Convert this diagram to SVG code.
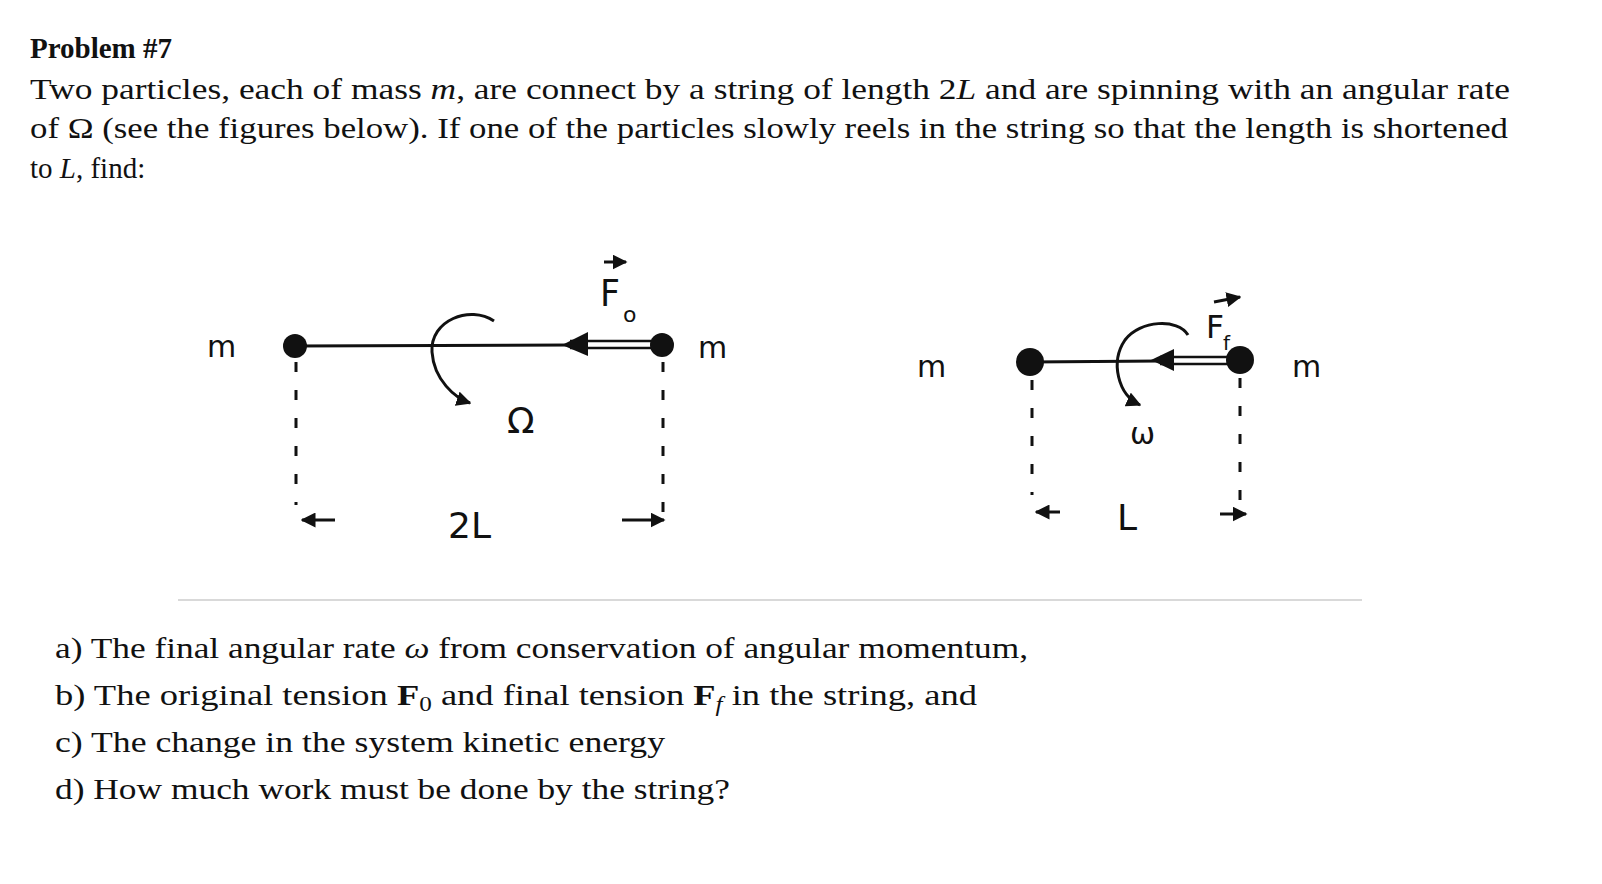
<svg xmlns="http://www.w3.org/2000/svg" width="1602" height="884" viewBox="0 0 1602 884">
<style>
.t{font-family:"Liberation Serif",serif;font-size:29px;fill:#111}
.h{font-family:"DejaVu Sans","Liberation Sans",sans-serif;fill:#111}
.ln{stroke:#111;stroke-width:3;fill:none}
.d{stroke:#111;stroke-width:3;fill:none;stroke-dasharray:10 18}
</style>
<defs>
<marker id="ah" viewBox="0 0 10 10" refX="9" refY="5" markerWidth="5" markerHeight="5" orient="auto"><path d="M0,0L10,5L0,10z" fill="#111"/></marker>
</defs>
<rect width="1602" height="884" fill="#fff"/>
<g id="text">
<text class="t" x="30" y="58" font-weight="bold">Problem #7</text>
<text class="t" x="30" y="99" textLength="1480" lengthAdjust="spacingAndGlyphs">Two particles, each of mass <tspan font-style="italic">m</tspan>, are connect by a string of length 2<tspan font-style="italic">L</tspan> and are spinning with an angular rate</text>
<text class="t" x="30" y="138" textLength="1478" lengthAdjust="spacingAndGlyphs">of Ω (see the figures below). If one of the particles slowly reels in the string so that the length is shortened</text>
<text class="t" x="30" y="178">to <tspan font-style="italic">L</tspan>, find:</text>
<text class="t" x="55" y="658" textLength="973" lengthAdjust="spacingAndGlyphs">a)  The final angular rate <tspan font-style="italic">ω</tspan> from conservation of angular momentum,</text>
<text class="t" x="55" y="705" textLength="922" lengthAdjust="spacingAndGlyphs">b)  The original tension <tspan font-weight="bold">F</tspan><tspan font-size="20" dy="6">0</tspan><tspan dy="-6"> and final tension </tspan><tspan font-weight="bold">F</tspan><tspan font-size="20" font-style="italic" dy="6">f</tspan><tspan dy="-6"> in the string, and</tspan></text>
<text class="t" x="55" y="752" textLength="610" lengthAdjust="spacingAndGlyphs">c)  The change in the system kinetic energy</text>
<text class="t" x="55" y="799" textLength="675" lengthAdjust="spacingAndGlyphs">d)  How much work must be done by the string?</text>
</g>
<line x1="178" y1="600" x2="1362" y2="600" stroke="#ccc" stroke-width="1.5"/>
<g id="fig1">
<line class="ln" x1="295" y1="346" x2="570" y2="345"/>
<line x1="570" y1="341" x2="662" y2="341" stroke="#111" stroke-width="2.5"/>
<line x1="570" y1="348" x2="662" y2="348" stroke="#111" stroke-width="2.5"/>
<path d="M562,345 L588,332 L588,356 z" fill="#111"/>
<circle cx="295" cy="346" r="12" fill="#111"/>
<circle cx="662" cy="345" r="12" fill="#111"/>
<path class="ln" d="M494,321 C470,305 430,320 432,352 C434,380 455,398 470,403" marker-end="url(#ah)"/>
<text class="h" x="507" y="433" font-size="36">Ω</text>
<text class="h" x="207" y="357" font-size="30">m</text>
<text class="h" x="698" y="358" font-size="30">m</text>
<line class="ln" x1="604" y1="262" x2="626" y2="262" marker-end="url(#ah)"/>
<text class="h" x="600" y="306" font-size="38" textLength="20" lengthAdjust="spacingAndGlyphs">F</text>
<text class="h" x="623" y="322" font-size="22">o</text>
<line class="d" x1="296" y1="362" x2="296" y2="505"/>
<line class="d" x1="663" y1="362" x2="663" y2="512"/>
<line class="ln" x1="335" y1="520" x2="302" y2="520" marker-end="url(#ah)"/>
<line class="ln" x1="622" y1="520" x2="664" y2="520" marker-end="url(#ah)"/>
<text class="h" x="448" y="538" font-size="36">2L</text>
</g>
<g id="fig2">
<line class="ln" x1="1030" y1="362" x2="1160" y2="361"/>
<line x1="1160" y1="357" x2="1238" y2="357" stroke="#111" stroke-width="2.5"/>
<line x1="1160" y1="364" x2="1238" y2="364" stroke="#111" stroke-width="2.5"/>
<path d="M1151,360 L1174,349 L1174,371 z" fill="#111"/>
<circle cx="1030" cy="362" r="14" fill="#111"/>
<circle cx="1240" cy="360" r="14" fill="#111"/>
<path class="ln" d="M1188,335 C1178,318 1140,320 1125,340 C1110,362 1118,395 1140,405" marker-end="url(#ah)"/>
<text class="h" x="1130" y="444" font-size="30">ω</text>
<text class="h" x="1292" y="377" font-size="30">m</text>
<text class="h" x="917" y="377" font-size="30">m</text>
<line class="ln" x1="1214" y1="302" x2="1240" y2="297" marker-end="url(#ah)"/>
<text class="h" x="1206" y="338" font-size="32" textLength="18" lengthAdjust="spacingAndGlyphs">F</text>
<text class="h" x="1223" y="350" font-size="20">f</text>
<line class="d" x1="1032" y1="380" x2="1032" y2="495"/>
<line class="d" x1="1240" y1="378" x2="1240" y2="505"/>
<line class="ln" x1="1060" y1="512" x2="1036" y2="512" marker-end="url(#ah)"/>
<line class="ln" x1="1220" y1="514" x2="1246" y2="514" marker-end="url(#ah)"/>
<text class="h" x="1117" y="530" font-size="36">L</text>
</g>
</svg>
